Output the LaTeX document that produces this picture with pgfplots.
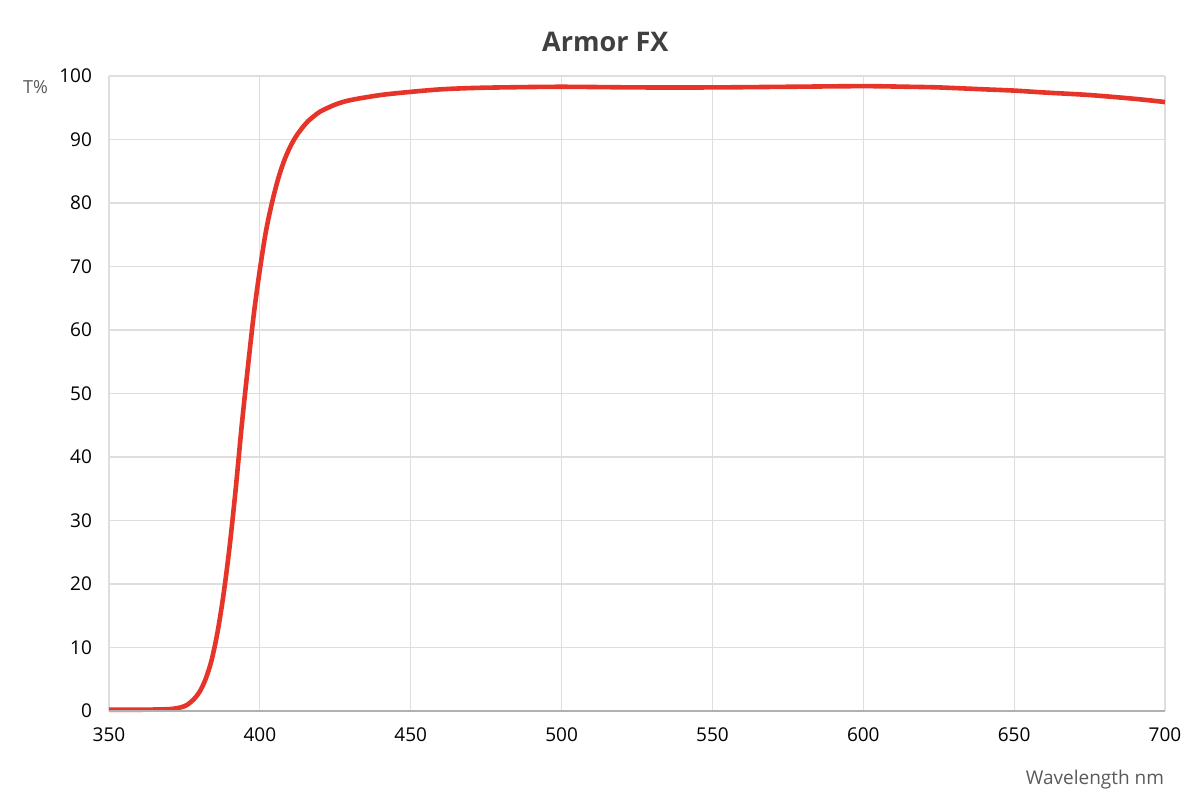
\documentclass[border=0pt]{standalone}
\usepackage{pgfplots}
\pgfplotsset{compat=1.18}
\usetikzlibrary{calc}
\usepackage{fontspec}
\setmainfont{Open Sans}
\definecolor{curvered}{RGB}{230,52,40}
\definecolor{gridgray}{RGB}{222,222,222}
\definecolor{labelgray}{RGB}{90,90,90}

\pgfplotstableread{
nm T
350 0.2
360 0.2
370 0.3
374 0.6
376 1.0
378 1.8
380 3.0
382 5.0
384 8.0
386 12.5
388 18.5
390 26.0
392 35.0
394 45.0
396 54.0
398 62.5
400 69.5
402 75.5
404 80.0
406 83.7
408 86.6
410 88.8
412 90.5
414 91.8
416 92.9
418 93.7
420 94.4
425 95.5
430 96.2
440 97.0
450 97.5
460 97.9
470 98.1
480 98.2
500 98.3
525 98.2
550 98.2
575 98.3
600 98.4
615 98.3
625 98.2
640 97.9
650 97.7
660 97.4
675 97.0
690 96.4
700 95.9
}\transmission

\begin{document}
\begin{tikzpicture}
\begin{axis}[
  scale only axis,
  width=528pt, height=317.5pt,
  xmin=350, xmax=700, ymin=0, ymax=100,
  xtick={350,400,...,700},
  ytick={0,10,...,100},
  grid=major,
  major grid style={gridgray, line width=0.6pt},
  axis line style={draw=none},
  major tick length=0pt,
  tick label style={font=\fontsize{9.5}{11}\selectfont, text=black},
  /pgf/number format/assume math mode=true,
  xticklabel style={yshift=-5pt},
  yticklabel style={xshift=-5pt},
  clip=false,
]
\addplot[curvered, line width=2.3pt, smooth] table[x=nm, y=T] {\transmission};
\draw[gridgray!80!black, line width=0.6pt] (rel axis cs:0,0) -- (rel axis cs:1,0);
\coordinate (sw) at (rel axis cs:0,0);
\coordinate (ne) at (rel axis cs:1,1);
\coordinate (nw) at (rel axis cs:0,1);
\coordinate (se) at (rel axis cs:1,0);
\end{axis}
\path[use as bounding box] ([shift={(-54.5pt,-42.5pt)}]sw) rectangle ([shift={(17.5pt,38pt)}]ne);
\node[font=\bfseries\fontsize{13.5}{16}\selectfont, text=black!75] at ($(nw)!0.47!(ne)+(0pt,17pt)$) {Armor FX};
\node[anchor=west, font=\fontsize{9}{10}\selectfont, text=labelgray] at ($(nw)+(-46.5pt,-5.5pt)$) {T\%};
\node[anchor=east, font=\fontsize{9.5}{11}\selectfont, text=labelgray] at ($(se)+(3pt,-34.5pt)$) {Wavelength nm};
\end{tikzpicture}
\end{document}
